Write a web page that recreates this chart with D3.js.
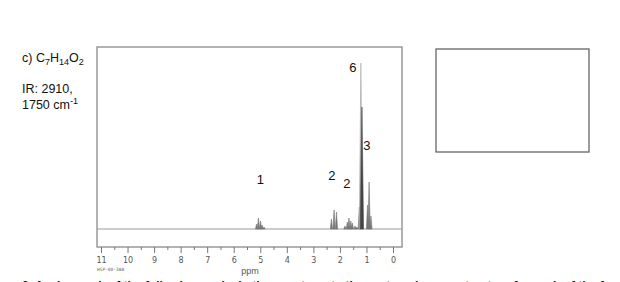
<!DOCTYPE html>
<html><head><meta charset="utf-8">
<script src="https://cdn.jsdelivr.net/npm/d3@7/dist/d3.min.js"></script>
<style>html,body{margin:0;padding:0;background:#fff;overflow:hidden}</style>
</head><body>
<svg id="c" width="620" height="282"></svg>
<script>
// Data
const peakPpm    = [5.14, 5.07, 4.99, 4.93, 4.86, 2.32, 2.22, 2.13, 1.81, 1.72, 1.66, 1.59, 1.53, 1.43, 1.36, 1.27, 1.21, 1.17, 0.96, 0.90, 0.83];
const peakHeight = [5, 11, 8, 4, 2, 10, 19, 17, 3, 7, 11, 8, 6, 3, 2, 22, 166, 122, 24, 47, 13];
const peakShade  = ["g","g","g","g","g","g","g","g","g","g","g","g","g","g","g","g","l","d","g","g","g"];
const integLabels = ["1", "2", "2", "6", "3"];
const integPpm    = [5.0, 2.30, 1.74, 1.51, 0.98];
const integHeight = [48, 52, 44, 160, 82];
const tickValues = d3.range(0, 12, 1);
const minorTicks = d3.range(0.5, 11, 1);

const svg = d3.select("#c");
const x = d3.scaleLinear().domain([11, 0]).range([101, 393]);
const y = d3.scaleLinear().domain([0, 182]).range([229, 47]);

const fL = x(11.15), fR = x(-0.34), fT = 47, fB = 247;

// frame
svg.append("rect").attr("x", fL).attr("y", fT).attr("width", fR - fL).attr("height", fB - fT)
  .attr("fill", "none").attr("stroke", "#999").attr("stroke-width", 1.5);
svg.append("line").attr("x1", fL).attr("x2", fR).attr("y1", y(0)).attr("y2", y(0))
  .attr("stroke", "#999").attr("stroke-width", 1.2);

// peaks
const shadeCol = {g: "#777", l: "#aaa", d: "#444"};
svg.append("g").selectAll("path").data(peakPpm).join("path")
  .attr("d", (p, i) => {
    const cx = x(p), w = peakHeight[i] > 100 ? 1.6 : 1.1;
    return `M${cx - w},${y(0)}L${cx},${y(peakHeight[i])}L${cx + w},${y(0)}Z`;
  })
  .attr("fill", (p, i) => shadeCol[peakShade[i]])
  .attr("stroke", (p, i) => shadeCol[peakShade[i]]).attr("stroke-width", 0.6);

// integration labels
svg.append("g").selectAll("text").data(integLabels).join("text")
  .attr("x", (d, i) => x(integPpm[i])).attr("y", (d, i) => y(integHeight[i]))
  .attr("text-anchor", "middle").attr("dominant-baseline", "middle")
  .attr("font-family", "Liberation Sans, Arial, sans-serif").attr("font-size", 13)
  .attr("fill", "#111").text(d => d);

// axis
const axis = d3.axisBottom(x).tickValues(tickValues).tickSize(6).tickFormat(d3.format("d"));
const ag = svg.append("g").attr("transform", `translate(0,${fB})`).call(axis);
ag.select(".domain").remove();
ag.selectAll("line").attr("stroke", "#777");
ag.selectAll("text").attr("font-family", "DejaVu Sans, sans-serif").attr("font-size", 8)
  .attr("fill", "#555").attr("dy", "0.9em");
const ag2 = svg.append("g").attr("transform", `translate(0,${fB})`)
  .call(d3.axisBottom(x).tickValues(minorTicks).tickSize(3).tickFormat(""));
ag2.select(".domain").remove();
ag2.selectAll("line").attr("stroke", "#777");

svg.append("text").attr("x", 250).attr("y", 274).attr("text-anchor", "middle")
  .attr("font-family", "Liberation Sans, Arial, sans-serif").attr("font-size", 9).attr("fill", "#555").text("ppm");
svg.append("text").attr("x", 97).attr("y", 271)
  .attr("font-family", "DejaVu Sans Mono, monospace").attr("font-size", 4.5).attr("fill", "#666").text("HSP-00-388");

// left text
const ff = "Liberation Sans, Arial, sans-serif";
const t1 = svg.append("text").attr("x", 22).attr("y", 62).attr("font-family", ff).attr("font-size", 12.5).attr("fill", "#111");
t1.append("tspan").text("c) C");
t1.append("tspan").attr("font-size", 9).attr("dy", 3).text("7");
t1.append("tspan").attr("dy", -3).text("H");
t1.append("tspan").attr("font-size", 9).attr("dy", 3).text("14");
t1.append("tspan").attr("dy", -3).text("O");
t1.append("tspan").attr("font-size", 9).attr("dy", 3).text("2");
svg.append("text").attr("x", 22).attr("y", 93).attr("font-family", ff).attr("font-size", 12.5).attr("fill", "#111").text("IR: 2910,");
const t3 = svg.append("text").attr("x", 22).attr("y", 109).attr("font-family", ff).attr("font-size", 12.5).attr("fill", "#111");
t3.append("tspan").text("1750 cm");
t3.append("tspan").attr("font-size", 9).attr("dy", -5).text("-1");

// answer box
svg.append("rect").attr("x", 436).attr("y", 49).attr("width", 153).attr("height", 103)
  .attr("fill", "none").attr("stroke", "#666").attr("stroke-width", 1.3);

// bottom sentence, cut off by the page edge as in the reference
svg.append("text").attr("x", 22).attr("y", 290).attr("font-family", ff).attr("font-size", 12).attr("font-weight", "bold")
  .attr("fill", "#111").text("2. Assign each of the following peaks in the spectrum to the protons in your structure for each of the f");
</script>
</body></html>
